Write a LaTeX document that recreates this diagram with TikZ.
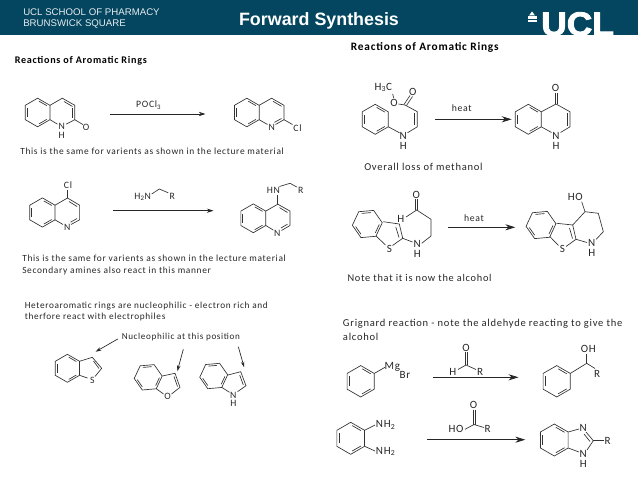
\documentclass[tikz,border=0pt]{standalone}
\usepackage{fontspec}
\setmainfont{Carlito}[LetterSpace=7]
\newfontfamily\headfont{Liberation Sans}
\newfontfamily\logofont{Liberation Sans}[BoldFeatures={FakeBold=2.5}]
\usetikzlibrary{arrows.meta}
\definecolor{headblue}{RGB}{4,70,95}
\tikzset{
  bond/.style={black!80, line width=0.5pt},
  rxn/.style={black!85, line width=0.55pt, -{Stealth[length=5pt,width=3.2pt]}},
  rxnbig/.style={black!85, line width=0.6pt, -{Stealth[length=7.5pt,width=4.6pt]}},
  pointer/.style={black!85, line width=0.5pt, -{Stealth[length=4.5pt,width=2.6pt]}},
  atom/.style={inner sep=0pt, font=\fontsize{7.3}{8}\selectfont, text=black!85},
  bigatom/.style={inner sep=0pt, font=\fontsize{8.3}{9}\selectfont, text=black!85},
  note/.style={anchor=west, inner sep=0pt, font=\fontsize{7.05}{8}\selectfont, text=black!85},
  heading/.style={note, font=\fontsize{7.6}{8}\selectfont\bfseries, text=black},
}
% six membered ring: x, y, radius, turn
\newcommand{\hexring}[4]{
  \draw[bond, shift={(#1,#2)}] (#4-90:#3) -- (#4-30:#3) -- (#4+30:#3) -- (#4+90:#3) -- (#4+150:#3) -- (#4+210:#3) -- cycle;
  \foreach \a in {-90,30,150}
    \draw[bond, shift={(#1,#2)}] (#4+\a+7:#3*.8) -- (#4+\a+53:#3*.8);
}
\begin{document}
\begin{tikzpicture}[x=0.75pt, y=-0.75pt]
  \useasboundingbox (0,0) rectangle (638,478);
  % header
  \fill[headblue] (0,0) rectangle (638,35.5);
  \node[anchor=west, inner sep=0pt, text=white!90!headblue, font=\headfont\fontsize{7.25}{8.6}\selectfont, align=left] (school) at (23,18.5) {UCL SCHOOL OF PHARMACY\\BRUNSWICK SQUARE};
  \node[inner sep=0pt, text=white, font=\headfont\bfseries\fontsize{13.4}{16}\selectfont] (title) at (319,20.5) {Forward Synthesis};
  \node[anchor=base west, inner sep=0pt, text=white, font=\logofont\bfseries\fontsize{25}{25}\selectfont, xscale=1.06] (ucl) at (541,35.5) {UCL};
  \fill[white] (532,11.5) -- (535,15.5) -- (529,15.5) -- cycle;
  \fill[white] (527.5,16.5) rectangle (536.5,19);
  \fill[white] (527.5,20.5) rectangle (536.5,22.5);

  % left column
  \node[heading] (lefthead) at (14.5,61) {Reactions of Aromatic Rings};

  % quinolone to chloroquinoline
  \hexring{37.6}{112.5}{14.3}{0}
  \draw[bond] (50,105.3) -- (62.3,98.2) -- (74.8,105.3) -- (74.8,119.7) -- (83,124.6);
  \draw[bond] (50,119.7) -- (57.5,124.2);
  \draw[bond] (66,124.2) -- (74.8,119.7);
  \draw[bond] (64,101.5) -- (72.5,106.5);
  \draw[bond] (72.2,108) -- (72.2,118);
  \node[atom] (qnN) at (61.7,126.8) {N};
  \node[atom] (qnH) at (61.7,135.2) {H};
  \node[atom] (qnO) at (86.2,127) {O};
  \coordinate (rxnAs) at (110,114);
  \coordinate (rxnAe) at (205.5,114);
  \draw[rxn] (rxnAs) -- (rxnAe);
  \node[atom] (pocl) at (148.7,105.3) {POCl\textsubscript{3}};
  \hexring{246.8}{112.5}{14.3}{0}
  \draw[bond] (259.2,105.3) -- (271.6,98.2) -- (284,105.3) -- (284,119.7) -- (275.5,124.5);
  \draw[bond] (259.2,119.7) -- (267.5,124.5);
  \draw[bond] (273,101.3) -- (281.5,106.3);
  \draw[bond] (281.5,118.5) -- (274.5,122.3);
  \draw[bond] (284,119.7) -- (292.5,124.5);
  \node[atom] (cqN) at (271.7,127.7) {N};
  \node[atom] (cqCl) at (297.5,128.5) {Cl};
  \node[note] (sameA) at (20,151.5) {This is the same for varients as shown in the lecture material};

  % chloroquinoline with amine
  \hexring{42.4}{212.5}{14.6}{0}
  \draw[bond] (55,205.2) -- (67.5,198) -- (79.6,205.2) -- (79.6,219.8) -- (71,224.5);
  \draw[bond] (55,219.8) -- (63,224.5);
  \draw[bond] (69,201.5) -- (77,206.5);
  \draw[bond] (77,218.5) -- (70.5,222.2);
  \draw[bond] (67.5,198) -- (67.5,189.5);
  \node[atom] (acCl) at (68,185.2) {Cl};
  \node[atom] (acN) at (67.2,227.2) {N};
  \coordinate (rxnBs) at (113.3,210.7);
  \coordinate (rxnBe) at (213.5,210.7);
  \draw[rxn] (rxnBs) -- (rxnBe);
  \node[atom] (amN) at (142.7,196.8) {H\textsubscript{2}N};
  \node[atom] (amR) at (172.3,196.8) {R};
  \draw[bond] (151.7,194) -- (159.3,189) -- (168.3,192.8);
  \hexring{253.3}{218.3}{14.4}{0}
  \draw[bond] (265.8,211.1) -- (277.8,204.2) -- (290,211.1) -- (290,225.5) -- (281.5,230.5);
  \draw[bond] (265.8,225.5) -- (273.5,230.2);
  \draw[bond] (279.5,207.6) -- (287.5,212.5);
  \draw[bond] (287.5,224.2) -- (281,228);
  \draw[bond] (277.8,204.2) -- (277.8,194.5);
  \draw[bond] (279.5,186.5) -- (290,183.3) -- (296.8,187);
  \node[atom] (apHN) at (273.3,190.2) {HN};
  \node[atom] (apR) at (300.7,190.2) {R};
  \node[atom] (apN) at (277.3,233.3) {N};
  \node[note] (sameB) at (22,258.3) {This is the same for varients as shown in the lecture material};
  \node[note] (secamine) at (22,270.7) {Secondary amines also react in this manner};

  % heteroaromatic rings
  \node[note, font=\fontsize{6.95}{8}\selectfont] (heteroA) at (24.5,305.7) {Heteroaromatic rings are nucleophilic - electron rich and};
  \node[note, font=\fontsize{6.95}{8}\selectfont] (heteroB) at (24.5,317.3) {therfore react with electrophiles};
  \node[note, font=\fontsize{6.85}{8}\selectfont] (nucpos) at (121.5,337) {Nucleophilic at this position};
  \coordinate (ptrAs) at (117.7,339);
  \coordinate (ptrAe) at (95.5,351.8);
  \draw[pointer] (ptrAs) -- (ptrAe);
  \coordinate (ptrBs) at (183.3,349.3);
  \coordinate (ptrBe) at (177.3,371.3);
  \draw[pointer] (ptrBs) -- (ptrBe);
  \coordinate (ptrCs) at (238.3,346.7);
  \coordinate (ptrCe) at (244.2,367.5);
  \draw[pointer] (ptrCs) -- (ptrCe);
  \hexring{67.4}{368.3}{14}{0}
  \draw[bond] (79.5,361.3) -- (92.3,357.3) -- (101.7,368.3) -- (95,376.5);
  \draw[bond] (79.5,375.3) -- (87.5,378);
  \draw[bond] (93.5,361) -- (99,368.5);
  \node[atom] (bzS) at (92.3,380.3) {S};
  \hexring{148.2}{377.3}{14}{-35}
  \draw[bond] (162.3,376) -- (175,373.3) -- (180,387.3) -- (171.5,394);
  \draw[bond] (156,388.5) -- (163.5,394);
  \draw[bond] (174,376.5) -- (177.5,386.5);
  \node[atom] (bfO) at (167.7,396.8) {O};
  \hexring{213.7}{376}{14}{-35}
  \draw[bond] (228,375) -- (240.7,371.7) -- (246,385.7) -- (237.5,391.7);
  \draw[bond] (221.7,387.3) -- (229.5,392.3);
  \draw[bond] (239.7,375) -- (243.3,385);
  \node[atom] (inN) at (233.3,395) {N};
  \node[atom] (inH) at (233.3,403) {H};

  % right column
  \node[heading, font=\fontsize{8.5}{9}\selectfont\bfseries] (righthead) at (350.7,47) {Reactions of Aromatic Rings};

  % ester to quinolone
  \hexring{375.2}{119.3}{15}{0}
  \draw[bond] (388.3,126.8) -- (399.5,132.8);
  \draw[bond] (407.5,132.8) -- (417.3,126.8) -- (417.3,111.7) -- (405,105);
  \draw[bond] (414.3,124.5) -- (414.3,113);
  \draw[bond] (405,105) -- (398.5,104);
  \draw[bond] (404,104.5) -- (410,95.5);
  \draw[bond] (406.5,105.5) -- (412.5,96.5);
  \draw[bond] (392.7,94) -- (393.7,98);
  \node[bigatom] (esN) at (403.3,136) {N};
  \node[bigatom] (esH) at (403.3,145.8) {H};
  \node[bigatom] (esO) at (394,103.3) {O};
  \node[bigatom] (esOd) at (412.8,91.7) {O};
  \node[bigatom] (esMe) at (383.3,87.7) {H\textsubscript{3}C};
  \coordinate (rxnCs) at (435.3,119.3);
  \coordinate (rxnCe) at (511.7,119.3);
  \draw[rxnbig] (rxnCs) -- (rxnCe);
  \node[atom] (heatA) at (461.7,108.3) {heat};
  \hexring{528.3}{119.3}{15}{0}
  \draw[bond] (541.3,111.8) -- (556,104) -- (570,111.8) -- (570,126.8) -- (560.5,132.5);
  \draw[bond] (541.3,126.8) -- (551.5,132.5);
  \draw[bond] (567,113) -- (567,125.5);
  \draw[bond] (555,104) -- (555,93);
  \draw[bond] (557,104) -- (557,93);
  \node[bigatom] (qoN) at (556,136) {N};
  \node[bigatom] (qoH) at (556,145.8) {H};
  \node[bigatom] (qoO) at (555.5,88) {O};
  \node[note, font=\fontsize{7.9}{8}\selectfont] (methanol) at (364,166.7) {Overall loss of methanol};

  % ketone to alcohol
  \hexring{367.3}{224}{15}{-35}
  \draw[bond] (383.3,221.7) -- (399.3,224) -- (402.7,238.3) -- (392.5,245.5);
  \draw[bond] (376,236) -- (385.5,245);
  \draw[bond] (395.8,227) -- (399,237.5);
  \draw[bond] (402.7,238.3) -- (412.5,242);
  \draw[bond] (421.7,243.3) -- (431,236) -- (431,219.3) -- (416.7,210) -- (406,217);
  \draw[bond] (415.7,210) -- (415.7,199);
  \draw[bond] (417.7,210) -- (417.7,199);
  \node[bigatom] (ktH) at (400.7,218.5) {H};
  \node[bigatom] (ktS) at (389.3,248.5) {S};
  \node[bigatom] (ktN) at (417.3,244.2) {N};
  \node[bigatom] (ktNH) at (417.3,254.3) {H};
  \node[bigatom] (ktO) at (416.3,195) {O};
  \coordinate (rxnDs) at (448.3,227.3);
  \coordinate (rxnDe) at (515.3,227.3);
  \draw[rxnbig] (rxnDs) -- (rxnDe);
  \node[atom] (heatB) at (474,217.7) {heat};
  \hexring{541}{225}{15}{-35}
  \draw[bond] (556.7,223.3) -- (572.7,225) -- (576,239.3) -- (566,246.5);
  \draw[bond] (550,236.7) -- (558.5,245.5);
  \draw[bond] (569.5,228) -- (572.5,238.5);
  \draw[bond] (572.7,225) -- (585,211.7) -- (598.3,213.3) -- (603.3,231.7) -- (596,239.5);
  \draw[bond] (576,239.3) -- (587,242.5);
  \draw[bond] (585,211.7) -- (581.7,201.7);
  \node[bigatom] (alOH) at (575.3,196.7) {HO};
  \node[bigatom] (alS) at (562.3,249.2) {S};
  \node[bigatom] (alN) at (591.7,243.3) {N};
  \node[bigatom] (alH) at (591.7,252.8) {H};
  \node[note, font=\fontsize{7.75}{8}\selectfont] (alcohol) at (347.3,277.7) {Note that it is now the alcohol};

  % grignard
  \node[note, font=\fontsize{7.9}{8}\selectfont] (gnA) at (342.7,323.3) {Grignard reaction - note the aldehyde reacting to give the};
  \node[note, font=\fontsize{7.9}{8}\selectfont] (gnB) at (342.7,336.7) {alcohol};
  \hexring{360.7}{381.3}{15.7}{0}
  \draw[bond] (374.3,373.4) -- (385,367.3);
  \node[bigatom] (gnMg) at (392.3,366.7) {Mg};
  \node[bigatom] (gnBr) at (405,375.2) {Br};
  \coordinate (rxnEs) at (432.7,377.3);
  \coordinate (rxnEe) at (518.5,377.3);
  \draw[rxnbig] (rxnEs) -- (rxnEe);
  \node[bigatom] (adO) at (466,347.5) {O};
  \node[bigatom] (adH) at (452.7,372.3) {H};
  \node[bigatom] (adR) at (480,372.3) {R};
  \draw[bond] (465,352) -- (465,365);
  \draw[bond] (467,352) -- (467,365);
  \draw[bond] (458,369.5) -- (466,365) -- (476,369.5);
  \hexring{556.7}{381.3}{15.7}{0}
  \draw[bond] (570.3,373.4) -- (586.7,363.3) -- (595,368.5);
  \draw[bond] (586.7,363.3) -- (586.7,353.5);
  \node[bigatom] (gpOH) at (588.3,349) {OH};
  \node[bigatom] (gpR) at (597,373.5) {R};

  % benzimidazole
  \hexring{350.7}{438.3}{16}{0}
  \draw[bond] (364.6,430.3) -- (375,425);
  \draw[bond] (364.6,446.3) -- (375,451);
  \node[bigatom, anchor=west] (daNa) at (375.7,425) {NH\textsubscript{2}};
  \node[bigatom, anchor=west] (daNb) at (375.7,451.3) {NH\textsubscript{2}};
  \coordinate (rxnFs) at (427.3,439.7);
  \coordinate (rxnFe) at (525.3,439.7);
  \draw[rxnbig] (rxnFs) -- (rxnFe);
  \node[bigatom] (acO) at (473.5,405) {O};
  \node[bigatom] (acHO) at (456,429.3) {HO};
  \node[bigatom] (acR) at (487.7,429.3) {R};
  \draw[bond] (473,409.5) -- (473,424.5);
  \draw[bond] (475,409.5) -- (475,424.5);
  \draw[bond] (465,429.3) -- (474,424.5) -- (484,427.5);
  \hexring{554.3}{440}{16}{0}
  \draw[bond] (568.2,432) -- (579,429);
  \draw[bond] (568.2,448) -- (579,452);
  \draw[bond] (586,432) -- (593.3,440.7) -- (587,450);
  \draw[bond] (584,434) -- (590,441.5);
  \draw[bond] (593.3,440.7) -- (604,440.7);
  \node[bigatom] (bmNa) at (583.3,428.3) {N};
  \node[bigatom] (bmNb) at (583.3,454.3) {N};
  \node[bigatom] (bmH) at (583.3,464) {H};
  \node[bigatom] (bmR) at (607.7,441) {R};
\end{tikzpicture}
\end{document}
